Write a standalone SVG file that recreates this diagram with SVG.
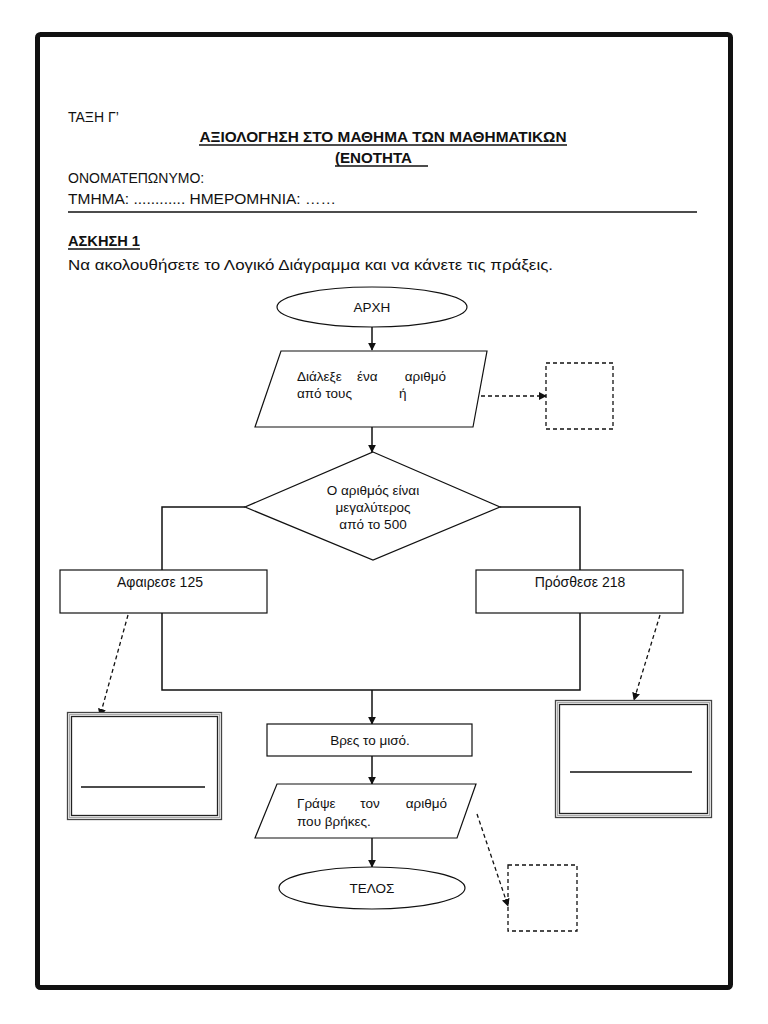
<svg xmlns="http://www.w3.org/2000/svg" width="768" height="1024" viewBox="0 0 768 1024">
<defs>
<style>
text{font-family:"Liberation Sans","DejaVu Sans",sans-serif;fill:#111}
.t{font-size:14px}
.b{font-size:14px;font-weight:bold}
.n{font-size:13.5px}
.c{text-anchor:middle}
.e{text-anchor:end}
.s{fill:#fff;stroke:#111;stroke-width:1.2}
.f{fill:none;stroke:#111;stroke-width:1.5}
.d{fill:none;stroke:#111;stroke-width:1.3;stroke-dasharray:4 3}
.d2{fill:none;stroke:#111;stroke-width:1.3;stroke-dasharray:4 3}
.u{stroke:#111;stroke-width:1.3}
</style>
<marker id="ah" viewBox="0 0 10 10" refX="9" refY="5" markerWidth="8" markerHeight="8" markerUnits="userSpaceOnUse" orient="auto">
<path d="M0,0 L10,5 L0,10 z" fill="#111"/>
</marker>
</defs>
<rect width="768" height="1024" fill="#fff"/>
<rect x="37.5" y="34.5" width="693" height="953" rx="3" fill="none" stroke="#111" stroke-width="5"/>

<g id="header">
<text x="68" y="122" class="t" font-size="13">ΤΑΞΗ Γ’</text>
<text x="383" y="142" class="b c" textLength="367" lengthAdjust="spacingAndGlyphs">ΑΞΙΟΛΟΓΗΣΗ ΣΤΟ ΜΑΘΗΜΑ ΤΩΝ ΜΑΘΗΜΑΤΙΚΩΝ</text>
<line x1="199" y1="145" x2="567" y2="145" class="u"/>
<text x="335" y="163" class="b" textLength="77" lengthAdjust="spacingAndGlyphs">(ΕΝΟΤΗΤΑ</text>
<line x1="335" y1="166" x2="428" y2="166" class="u"/>
<text x="68" y="183" class="t">ΟΝΟΜΑΤΕΠΩΝΥΜΟ:</text>
<text x="68" y="204" class="t" textLength="268" lengthAdjust="spacingAndGlyphs">ΤΜΗΜΑ: ............ ΗΜΕΡΟΜΗΝΙΑ: ……</text>
<line x1="68" y1="212" x2="697" y2="212" stroke="#111" stroke-width="1.3"/>
<text x="68" y="246" class="b" textLength="72" lengthAdjust="spacingAndGlyphs">ΑΣΚΗΣΗ 1</text>
<line x1="68" y1="249" x2="140" y2="249" class="u"/>
<text x="68" y="270" class="t" font-size="15" textLength="485" lengthAdjust="spacingAndGlyphs">Να ακολουθήσετε το Λογικό Διάγραμμα και να κάνετε τις πράξεις.</text>
</g>

<g id="connectors">
<line x1="372" y1="327" x2="372" y2="350" class="f" marker-end="url(#ah)"/>
<line x1="372" y1="427" x2="372" y2="452" class="f" marker-end="url(#ah)"/>
<polyline points="245,507 162,507 162,570" class="f"/>
<polyline points="500,507 580,507 580,570" class="f"/>
<polyline points="162,613 162,690 580,690 580,613" class="f"/>
<line x1="372" y1="690" x2="372" y2="724" class="f" marker-end="url(#ah)"/>
<line x1="372" y1="756" x2="372" y2="784" class="f" marker-end="url(#ah)"/>
<line x1="372" y1="838" x2="372" y2="867" class="f" marker-end="url(#ah)"/>
<line x1="474" y1="396" x2="546" y2="396" class="d" stroke-width="1.6" marker-end="url(#ah)"/>
<line x1="128" y1="615" x2="100" y2="716" class="d" marker-end="url(#ah)"/>
<line x1="660" y1="615" x2="634" y2="700" class="d" marker-end="url(#ah)"/>
<line x1="477" y1="814" x2="508" y2="906" class="d" marker-end="url(#ah)"/>
</g>

<g id="start">
<ellipse cx="372" cy="307" rx="95" ry="20" class="s"/>
<text x="372" y="312" class="n c">ΑΡΧΗ</text>
</g>

<g id="choose">
<polygon points="281,351 487,351 473,427 255,427" class="s"/>
<text x="297" y="381" class="n">Διάλεξε</text>
<text x="357" y="381" class="n">ένα</text>
<text x="446" y="381" class="n e">αριθμό</text>
<text x="297" y="398" class="n">από τους</text>
<text x="399" y="398" class="n">ή</text>
</g>

<g id="box1">
<rect x="546" y="363" width="67" height="66" class="d2"/>
</g>

<g id="decision">
<polygon points="373,452 500,507 373,560 245,507" class="s"/>
<text x="373" y="495" class="n c" font-size="14">Ο αριθμός είναι</text>
<text x="373" y="512" class="n c" font-size="14">μεγαλύτερος</text>
<text x="373" y="529" class="n c" font-size="14">από το 500</text>
</g>

<g id="subtract">
<rect x="60" y="570" width="207" height="43" class="s"/>
<text x="160" y="587" class="t c" font-size="15">Αφαιρεσε 125</text>
</g>

<g id="add">
<rect x="476" y="570" width="207" height="43" class="s"/>
<text x="580" y="587" class="t c" font-size="15">Πρόσθεσε 218</text>
</g>

<g id="leftresult">
<rect x="67.5" y="712.5" width="154" height="107" fill="#fff" stroke="#444" stroke-width="1.3"/>
<rect x="69.5" y="714.5" width="150" height="103" fill="none" stroke="#aaa" stroke-width="1.2"/>
<rect x="71.5" y="716.5" width="146" height="99" fill="none" stroke="#222" stroke-width="1.3"/>
<line x1="81" y1="787" x2="205" y2="787" stroke="#111" stroke-width="1.3"/>
</g>

<g id="rightresult">
<rect x="555.5" y="700.5" width="156" height="117" fill="#fff" stroke="#444" stroke-width="1.3"/>
<rect x="557.5" y="702.5" width="152" height="113" fill="none" stroke="#aaa" stroke-width="1.2"/>
<rect x="559.5" y="704.5" width="148" height="109" fill="none" stroke="#222" stroke-width="1.3"/>
<line x1="570" y1="772" x2="692" y2="772" stroke="#111" stroke-width="1.3"/>
</g>

<g id="half">
<rect x="267" y="724" width="205" height="32" class="s"/>
<text x="370" y="745" class="n c">Βρες το μισό.</text>
</g>

<g id="write">
<polygon points="277,784 476,784 457,838 255,838" class="s"/>
<text x="297" y="808" class="n">Γράψε</text>
<text x="370" y="808" class="n c">τον</text>
<text x="447" y="808" class="n e">αριθμό</text>
<text x="297" y="826" class="n">που βρήκες.</text>
</g>

<g id="box2">
<rect x="508" y="865" width="69" height="66" class="d2"/>
</g>

<g id="end">
<ellipse cx="372" cy="888" rx="93" ry="21" class="s"/>
<text x="372" y="893" class="n c">ΤΕΛΟΣ</text>
</g>
</svg>
